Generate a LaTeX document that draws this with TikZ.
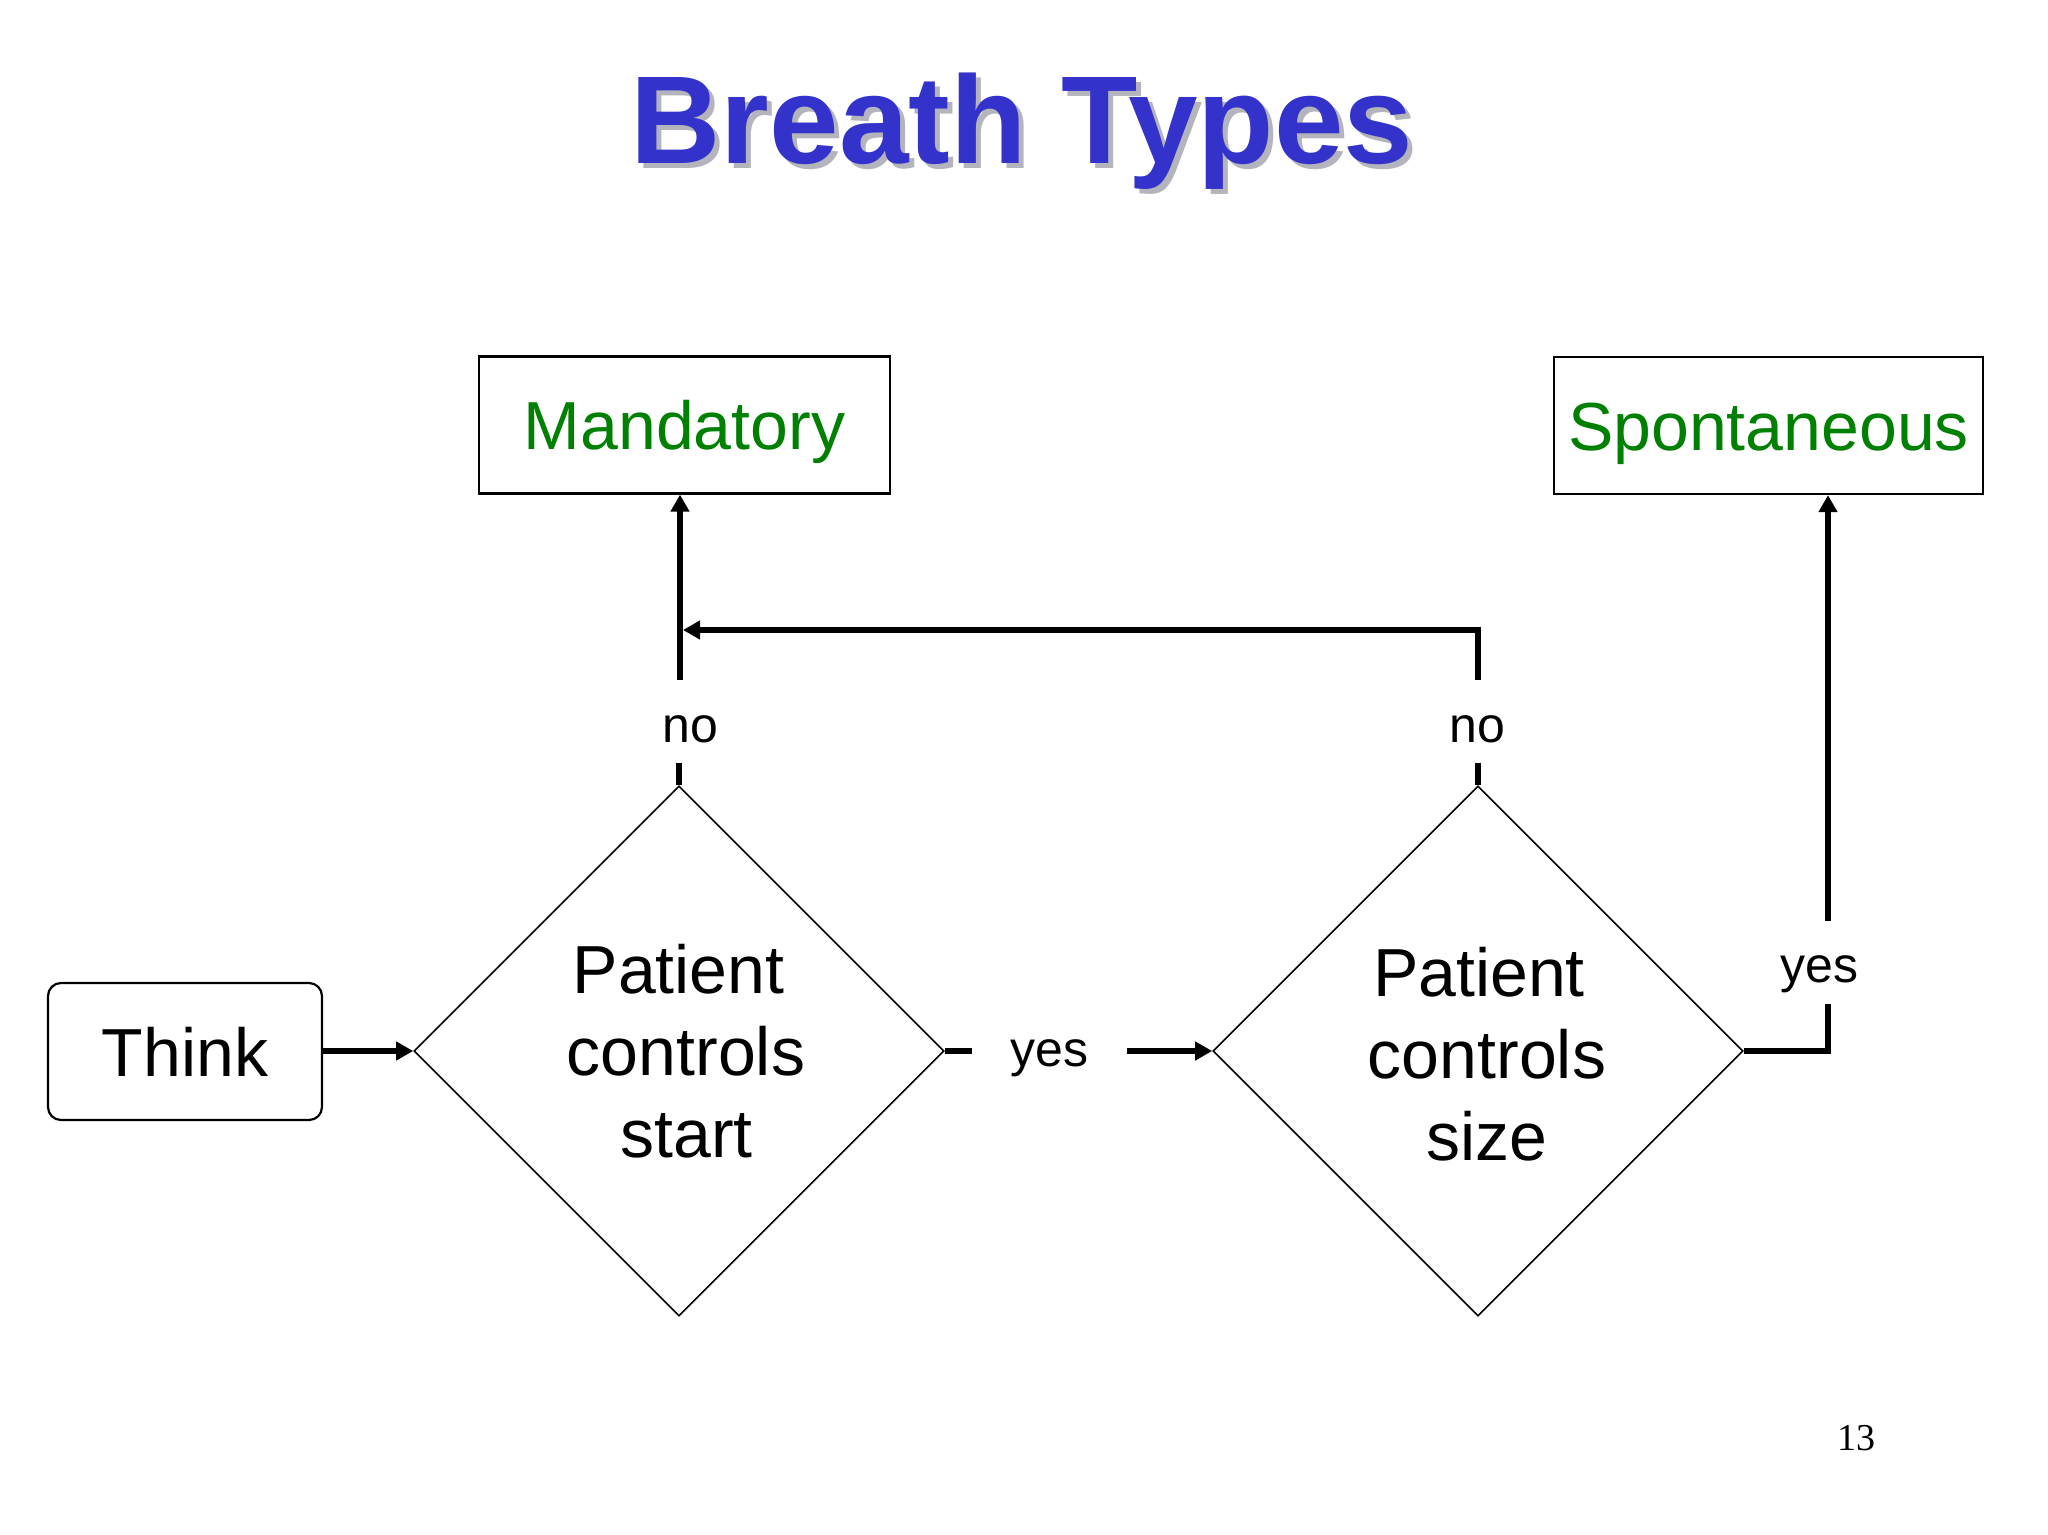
\documentclass[tikz,border=0pt]{standalone}
\usepackage{fontspec}
\setmainfont{Liberation Sans}
\newfontfamily\pgnumfont{Liberation Serif}
\usetikzlibrary{shapes.geometric,arrows.meta}
\definecolor{titleblue}{RGB}{51,51,204}
\definecolor{shadowgray}{RGB}{180,180,188}
\definecolor{labelgreen}{RGB}{0,128,0}
\begin{document}
\begin{tikzpicture}[x=1pt,y=-1pt,
  bigfont/.style={font=\fontsize{68}{80}\selectfont},
  box/.style={draw,line width=2.2pt,inner sep=0pt,text height=49pt,text depth=0pt,bigfont},
  decision/.style={draw,diamond,line width=1.6pt,minimum width=530pt,minimum height=530pt,inner sep=0pt},
  dtext/.style={anchor=base,inner sep=0pt,bigfont},
  lbl/.style={anchor=base,inner sep=0pt,font=\fontsize{50}{60}\selectfont},
  titlefont/.style={anchor=base,inner sep=0pt,font=\fontsize{125}{140}\selectfont\bfseries},
  conn/.style={line width=5.5pt},
  arr/.style={conn,-{Triangle[length=17pt,width=18pt]}}
]
\useasboundingbox[fill=white] (0,0) rectangle (2048,1534);

% title with drop shadow
\node[titlefont,text=titleblue] (title) at (1022,163)
  {\makebox[0pt][l]{\hspace{5pt}\raisebox{-5pt}[0pt][0pt]{\color{shadowgray}Breath Types}}Breath Types};

% boxes
\node[box,text=labelgreen,minimum width=411pt,minimum height=137pt] (mand) at (684.5,425) {Mandatory};
\node[box,text=labelgreen,minimum width=429pt,minimum height=137pt] (spont) at (1768.5,425.5) {Spontaneous};
\node[box,rounded corners=13pt,minimum width=274pt,minimum height=137pt] (think) at (185,1051.5) {Think};

% decisions
\node[decision] (d1) at (679,1051) {};
\node[decision] (d2) at (1478,1051) {};

\node[dtext] (d1a) at (678.5,993) {Patient};
\node[dtext] (d1b) at (686,1075) {controls};
\node[dtext] (d1c) at (686.5,1157) {start};
\node[dtext] (d2a) at (1479,996) {Patient};
\node[dtext] (d2b) at (1487,1078) {controls};
\node[dtext] (d2c) at (1487,1160) {size};

% labels
\node[lbl] (no1) at (690,742) {no};
\node[lbl] (no2) at (1477,742) {no};
\node[lbl] (yes1) at (1049.5,1066) {yes};
\node[lbl] (yes2) at (1819.5,982) {yes};

% page number
\node[anchor=base,inner sep=0pt,font=\fontsize{38}{44}\pgnumfont] (pgnum) at (1856.5,1450) {13};

% connector points
\coordinate (d1stub) at (679,763);
\coordinate (mandfoot) at (680,680);
\coordinate (d2stub) at (1478,763);
\coordinate (d2foot) at (1478,680);
\coordinate (mergept) at (683,630);
\coordinate (d1out) at (972,1051);
\coordinate (d2in) at (1127,1051);
\coordinate (d2corner) at (1828,1051);
\coordinate (d2up) at (1828,1004);
\coordinate (spontfoot) at (1828,921);

% connectors
\draw[arr] (think.east |- d1.west) -- (d1.west);
\draw[conn] (d1.east) -- (d1out);
\draw[arr] (d2in) -- (d2.west);
\draw[conn] (d1.north) -- (d1stub);
\draw[arr] (mandfoot) -- (mandfoot |- mand.south);
\draw[conn] (d2.north) -- (d2stub);
\draw[arr] (d2foot) |- (mergept);
\draw[conn] (d2.east) -- (d2corner) -- (d2up);
\draw[arr] (spontfoot) -- (spontfoot |- spont.south);
\end{tikzpicture}
\end{document}
